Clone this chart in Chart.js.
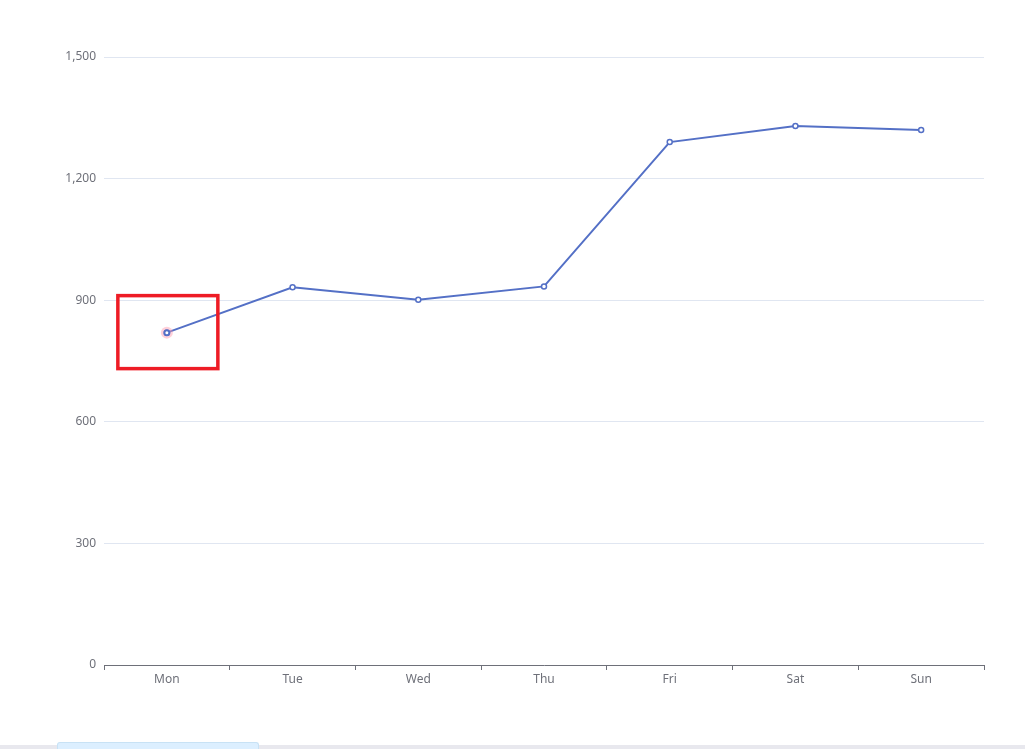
<!DOCTYPE html>
<html><head><meta charset="utf-8">
<script src="https://cdn.jsdelivr.net/npm/chart.js@4"></script>
<style>
html,body{margin:0;padding:0;background:#fff;overflow:hidden}
#wrap{position:relative;width:1025px;height:749px}
#strip{position:absolute;left:0;top:745px;width:1025px;height:4px;background:#e8e8ee}
#tab{position:absolute;left:57px;top:742px;width:200px;height:7px;background:#dcefff;border:1px solid #c8e2f5;border-bottom:none;border-radius:3px 3px 0 0}
</style></head><body>
<div id="wrap"><canvas id="c" width="1025" height="749"></canvas><div id="strip"></div><div id="tab"></div></div>
<script>
const categories = ['Mon','Tue','Wed','Thu','Fri','Sat','Sun'];
const values = [820, 932, 901, 934, 1290, 1330, 1320];
const highlightIndex = 0;

const highlight = {
  id:'highlight',
  afterDatasetsDraw(chart){
    const meta = chart.getDatasetMeta(0);
    const p = meta.data[highlightIndex];
    const ctx = chart.ctx;
    ctx.save();
    ctx.beginPath(); ctx.arc(p.x,p.y,6,0,Math.PI*2);
    ctx.fillStyle='rgba(255,150,170,0.45)'; ctx.fill();
    ctx.beginPath(); ctx.arc(p.x,p.y,2.5,0,Math.PI*2);
    ctx.fillStyle='#fff'; ctx.fill();
    ctx.lineWidth=2; ctx.strokeStyle='#5470C6'; ctx.stroke();
    ctx.lineWidth=3.5; ctx.strokeStyle='#ee1c25';
    ctx.strokeRect(p.x-49,p.y-37,100,73);
    ctx.restore();
  }
};

new Chart(document.getElementById('c'),{
  type:'line',
  data:{labels:categories,datasets:[{data:values,borderColor:'#5470C6',borderWidth:2,
    pointRadius:2.5,pointBackgroundColor:'#fff',pointBorderColor:'#5470C6',pointBorderWidth:1.5,
    tension:0,fill:false}]},
  options:{
    responsive:false,animation:false,devicePixelRatio:1,
    layout:{padding:{top:57,right:41,left:0,bottom:0}},
    plugins:{legend:{display:false},tooltip:{enabled:false}},
    scales:{
      x:{offset:true,
        grid:{drawOnChartArea:false,offset:true,tickLength:5,color:'#6E7079'},
        border:{color:'#6E7079'},
        ticks:{color:'#6E7079',font:{family:'Noto Sans',size:12},padding:2},
        afterFit(s){s.height=84;}},
      y:{min:0,max:1500,
        grid:{color:'#E0E6F1',drawTicks:false},
        border:{display:false},
        ticks:{stepSize:300,color:'#6E7079',font:{family:'Noto Sans',size:12},padding:8,
          callback:v=>v.toLocaleString('en-US')},
        afterFit(s){s.width=104;}}
    }
  },
  plugins:[highlight]
});
</script></body></html>
